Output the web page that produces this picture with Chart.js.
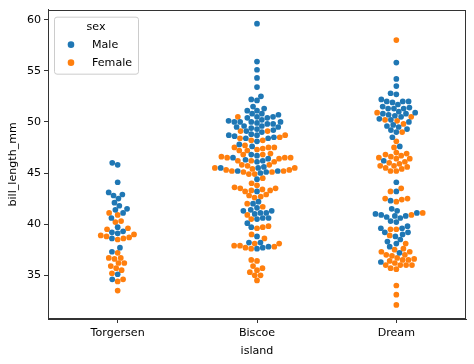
<!DOCTYPE html>
<html>
<head>
<meta charset="utf-8">
<script src="https://cdn.jsdelivr.net/npm/chart.js@4"></script>
<style>
  html, body { margin: 0; padding: 0; background: #fff; }
  #c { display: block; }
</style>
</head>
<body>
<canvas id="c" width="474" height="364"></canvas>
<script>
// ---------------- data ----------------
const islands = ['Torgersen', 'Biscoe', 'Dream'];
const sexes = ['Male', 'Female'];
const legendTitle = 'sex';
const xTitle = 'island';
const yTitle = 'bill_length_mm';
const yTicks = [35, 40, 45, 50, 55, 60];

const torgersenMale = [39.1, 39.3, 39.2, 38.6, 34.6, 42.5, 46.0, 41.8, 39.7, 45.8, 42.8, 42.1, 42.9, 35.1,
  37.3, 41.1, 37.7, 41.4, 40.6, 41.5, 44.1, 43.1];
const torgersenFemale = [39.5, 40.3, 36.7, 38.9, 41.1, 36.6, 38.7, 34.4, 35.9, 33.5, 39.6, 35.5, 40.9, 37.2,
  36.2, 34.6, 36.7, 38.6, 35.7, 36.2, 40.2, 35.2, 38.8, 39.0, 38.5];

const biscoeMale = [37.7, 38.2, 38.8, 40.6, 40.5, 40.1, 42.0, 41.4, 40.6, 37.6, 41.3, 41.1, 41.6, 41.1, 41.0,
  37.8, 39.7, 38.2, 43.2, 45.6, 42.2, 41.3,
  50.0, 50.0, 47.6, 46.7, 46.8, 49.0, 48.4, 49.3, 49.2, 48.7, 50.2, 46.3, 46.1, 47.8, 50.0, 45.1, 59.6, 48.4,
  44.4, 48.7, 49.6, 49.6, 50.5, 45.5, 50.5, 45.2, 48.5, 50.1, 45.0, 45.5, 50.4, 46.2, 54.3, 49.8, 49.5, 50.7,
  46.4, 46.5, 48.6, 51.1, 45.2, 52.5, 50.0, 50.8, 51.3, 52.1, 52.2, 49.5, 50.8, 49.4, 51.1, 55.9, 49.1, 53.4,
  48.1, 49.8, 51.5, 55.1, 48.8, 50.4, 49.9];
const biscoeFemale = [37.8, 35.9, 35.3, 40.5, 37.9, 39.6, 35.0, 34.5, 39.0, 36.5, 35.7, 37.6, 36.4, 35.5, 35.0,
  37.7, 37.9, 38.6, 38.1, 38.1, 39.7, 39.8,
  46.1, 48.7, 46.5, 45.4, 43.3, 40.9, 45.5, 45.8, 42.0, 46.2, 45.1, 46.5, 42.9, 48.2, 47.3, 42.8, 49.1, 42.6,
  44.0, 42.7, 45.3, 43.6, 44.9, 46.6, 45.1, 46.5, 43.8, 43.2, 45.3, 45.7, 45.8, 43.5, 47.7, 48.2, 46.4, 47.5,
  45.2, 49.1, 47.4, 44.9, 43.4, 47.5, 47.5, 45.5, 44.5, 46.9, 48.4, 48.5, 47.2, 46.8, 41.7, 43.3, 50.5, 43.5,
  46.2, 47.2, 46.8, 45.2];

const dreamMale = [37.2, 40.9, 39.2, 38.8, 39.8, 40.8, 44.1, 39.6, 42.3, 41.3, 36.3, 38.3, 41.1, 39.6, 40.8,
  40.3, 43.2, 40.7, 39.0, 39.2, 37.8, 41.5, 40.2, 38.1, 40.6, 41.0, 38.5,
  50.0, 51.3, 52.7, 51.3, 51.3, 51.7, 52.0, 50.5, 50.3, 49.2, 48.5, 50.6, 52.0, 49.5, 52.8, 54.2, 51.0, 49.7,
  47.6, 52.0, 53.5, 46.2, 50.9, 50.8, 49.0, 51.5, 51.4, 50.7, 52.2, 49.3, 50.2, 51.9, 55.8, 49.6, 50.8];
const dreamFemale = [39.5, 39.5, 36.4, 42.2, 37.6, 36.5, 36.0, 37.0, 41.1, 36.0, 37.3, 36.9, 38.9, 35.7, 34.0,
  36.2, 38.1, 33.1, 32.1, 37.3, 36.6, 36.0, 36.0, 37.0, 36.7, 35.6, 37.5, 36.5,
  46.5, 45.4, 45.2, 46.1, 46.0, 46.6, 47.0, 45.9, 58.0, 46.4, 42.4, 43.2, 46.7, 50.5, 46.4, 40.9, 42.5, 47.5,
  46.9, 49.0, 50.9, 45.5, 50.1, 49.8, 48.1, 45.7, 42.5, 45.2, 45.6, 46.8, 45.7, 43.5, 50.2];

const maleByIsland = [torgersenMale, biscoeMale, dreamMale];
const femaleByIsland = [torgersenFemale, biscoeFemale, dreamFemale];
const colors = ['#1f77b4', '#ff7f0e'];

// matplotlib-style 5% margins on the value axis
const allVals = [].concat(...maleByIsland, ...femaleByIsland);
const vLo = Math.min(...allVals), vHi = Math.max(...allVals);
const vPad = 0.05 * (vHi - vLo);

const FONT = 'DejaVu Sans';
const FS = 11.1;
const AX = '#333333';
const SWARM_R = 2.78;

// ---------------- legend drawn inside the axes ----------------
const boxPlugin = {
  id: 'mplFrame',
  afterDraw(chart) {
    const { ctx, chartArea: a } = chart;
    ctx.save();
    ctx.strokeStyle = AX;
    ctx.lineWidth = 1;
    ctx.strokeRect(Math.round(a.left) + 0.5, Math.round(a.top) + 0.5,
      Math.round(a.right - a.left) - 1, Math.round(a.bottom - a.top) - 1);
    // legend
    const lx = a.left + 6, ly = a.top + 7, lw = 84, lh = 57;
    ctx.beginPath();
    if (ctx.roundRect) ctx.roundRect(lx + 0.5, ly + 0.5, lw, lh, 2.5); else ctx.rect(lx + 0.5, ly + 0.5, lw, lh);
    ctx.fillStyle = 'rgba(255,255,255,0.8)';
    ctx.fill();
    ctx.strokeStyle = '#cccccc';
    ctx.stroke();
    ctx.fillStyle = '#000';
    ctx.font = FS + 'px "' + FONT + '"';
    ctx.textBaseline = 'middle';
    ctx.textAlign = 'center';
    ctx.fillText(legendTitle, lx + lw / 2, ly + 10);
    ctx.textAlign = 'left';
    chart.data.datasets.forEach((ds, i) => {
      const yy = ly + 28 + i * 18;
      ctx.beginPath();
      ctx.arc(lx + 17, yy, 3.3, 0, Math.PI * 2);
      ctx.fillStyle = ds.backgroundColor;
      ctx.fill();
      ctx.fillStyle = '#000';
      ctx.fillText(ds.label, lx + 38, yy + 0.5);
    });
    ctx.restore();
  }
};

const chart = new Chart(document.getElementById('c'), {
  type: 'scatter',
  data: {
    datasets: sexes.map((s, i) => ({
      label: s, data: [], backgroundColor: colors[i], borderWidth: 0,
      pointRadius: 2.85, pointHoverRadius: 2.85
    }))
  },
  options: {
    responsive: false,
    animation: false,
    events: [],
    layout: { padding: { top: 7, right: 8, left: 0, bottom: 0 } },
    plugins: { legend: { display: false }, tooltip: { enabled: false } },
    scales: {
      x: {
        type: 'linear', min: -0.5, max: 2.5,
        afterBuildTicks: s => { s.ticks = islands.map((_, i) => ({ value: i })); },
        afterFit: s => { s.height = 45; },
        ticks: {
          callback: v => islands[v], color: '#000', padding: 3, autoSkip: false, maxRotation: 0,
          font: { family: FONT, size: FS }
        },
        grid: { drawOnChartArea: false, drawTicks: true, tickLength: 4, color: AX, tickWidth: 1 },
        border: { display: true, color: AX, width: 1 },
        title: { display: true, text: xTitle, color: '#000', font: { family: FONT, size: FS }, padding: { top: 0, bottom: 6 } }
      },
      y: {
        type: 'linear', min: vLo - vPad, max: vHi + vPad,
        afterBuildTicks: s => { s.ticks = yTicks.map(v => ({ value: v })); },
        afterFit: s => { s.width = 48; },
        ticks: { color: '#000', padding: 3, font: { family: FONT, size: FS } },
        grid: { drawOnChartArea: false, drawTicks: true, tickLength: 4, color: AX, tickWidth: 1 },
        border: { display: true, color: AX, width: 1 },
        title: { display: true, text: yTitle, color: '#000', font: { family: FONT, size: FS }, padding: { top: 6, bottom: 0 } }
      }
    }
  },
  plugins: [boxPlugin]
});

// ---------------- seaborn-like beeswarm placement ----------------
function swarm(items, cx, r) {
  const placed = [];
  for (const it of items) {
    const y = it.y;
    const nb = [];
    for (let j = placed.length - 1; j >= 0; j--) {
      if (y - placed[j].y < 2 * r) nb.push(placed[j]); else break;
    }
    const cands = [cx];
    let leftFirst = true;
    for (const n of nb) {
      const dy = y - n.y;
      const dx = Math.sqrt(Math.max(4 * r * r - dy * dy, 0)) * 1.05;
      if (leftFirst) cands.push(n.x - dx, n.x + dx); else cands.push(n.x + dx, n.x - dx);
      leftFirst = !leftFirst;
    }
    const order = cands.map((c, i) => ({ c, i }))
      .sort((a, b) => (Math.abs(a.c - cx) - Math.abs(b.c - cx)) || (a.i - b.i));
    let chosen = cx;
    if (nb.length) {
      for (const o of order) {
        if (nb.every(n => (n.x - o.c) ** 2 + (n.y - y) ** 2 >= 4 * r * r - 1e-9)) { chosen = o.c; break; }
      }
    }
    placed.push({ x: chosen, y, it });
  }
  return placed;
}

const xs = chart.scales.x, ys = chart.scales.y;
const out = [[], []];
islands.forEach((isl, k) => {
  const items = [];
  maleByIsland[k].forEach(v => items.push({ v, s: 0 }));
  femaleByIsland[k].forEach(v => items.push({ v, s: 1 }));
  items.forEach(it => { it.y = -ys.getPixelForValue(it.v); });
  items.sort((a, b) => a.y - b.y);
  const cx = xs.getPixelForValue(k);
  swarm(items, cx, SWARM_R).forEach(p => {
    out[p.it.s].push({ x: xs.getValueForPixel(p.x), y: p.it.v });
  });
});
chart.data.datasets[0].data = out[0];
chart.data.datasets[1].data = out[1];
chart.update('none');
</script>
</body>
</html>
